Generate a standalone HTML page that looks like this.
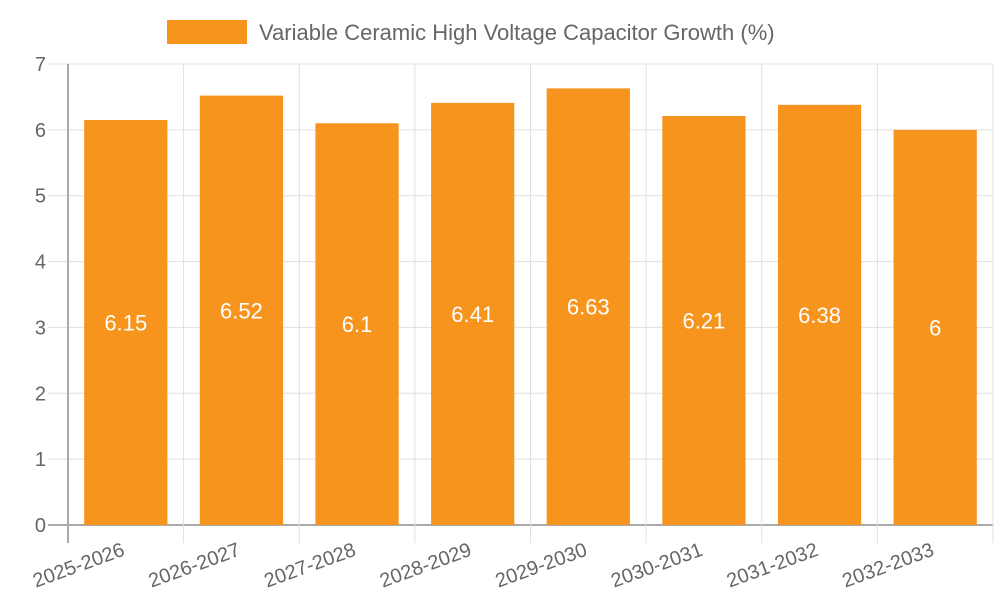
<!DOCTYPE html>
<html><head><meta charset="utf-8"><style>
html,body{margin:0;padding:0;background:#fff;}
svg{display:block;font-family:"Liberation Sans",sans-serif;}
</style></head><body>
<svg id="chart" width="1000" height="600">
  <g>
    <rect x="167" y="20" width="80" height="24" fill="#f7941e"></rect>
    <text x="259" y="40" font-size="22" fill="#666">Variable Ceramic High Voltage Capacitor Growth (%)</text>
  </g>
  <g id="grid"></g>
  <g id="bars"></g>
  <g id="axes"></g>
</svg>
<script>
const categories = ["2025-2026","2026-2027","2027-2028","2028-2029","2029-2030","2030-2031","2031-2032","2032-2033"];
const values = [6.15,6.52,6.1,6.41,6.63,6.21,6.38,6];
const valueLabels = ["6.15","6.52","6.1","6.41","6.63","6.21","6.38","6"];
const yTicks = [0,1,2,3,4,5,6,7];

const NS = "http://www.w3.org/2000/svg";
const L = 68, R = 993, T = 64, B = 525, yMax = 7;
const bw = (R - L) / categories.length;
const y = v => B - (v / yMax) * (B - T);
const xc = i => L + bw * (i + 0.5);
function mk(tag, attrs, parent) {
  const e = document.createElementNS(NS, tag);
  for (const k in attrs) e.setAttribute(k, attrs[k]);
  parent.appendChild(e);
  return e;
}
const grid = document.getElementById("grid");
const bars = document.getElementById("bars");
const axes = document.getElementById("axes");

yTicks.forEach(t => {
  const ln = mk("line", {x1: L - 20, x2: R, y1: y(t), y2: y(t), stroke: t === 0 ? "#aaa" : "#e0e0e0", "stroke-width": t === 0 ? 2 : 1}, grid);
  
  
  const tx = mk("text", {x: L - 22, y: y(t) + 7, "text-anchor": "end", "font-size": 20, fill: "#666"}, axes);
  tx.textContent = t;
  
  
});
for (let i = 0; i <= categories.length; i++) {
  const x = L + bw * i;
  const ln = mk("line", {x1: x, x2: x, y1: T, y2: B + 18, stroke: i === 0 ? "#aaa" : "#e0e0e0", "stroke-width": i === 0 ? 2 : 1}, grid);
  
  
}
categories.forEach((c, i) => {
  const w = bw * 0.72;
  const r = mk("rect", {x: xc(i) - w / 2, y: y(values[i]), width: w, height: B - y(values[i]), fill: "#f7941e"}, bars);
  
  
  const vl = mk("text", {x: xc(i), y: (y(values[i]) + B) / 2 + 8, "text-anchor": "middle", "font-size": 22, fill: "#fff"}, bars);
  vl.textContent = valueLabels[i];
  
  
  const xl = mk("text", {x: xc(i), y: B + 30, "text-anchor": "end", "font-size": 20, fill: "#666", transform: "rotate(-20 " + xc(i) + " " + (B + 30) + ")"}, axes);
  xl.textContent = c;
  
  
});
</script>
</body></html>
